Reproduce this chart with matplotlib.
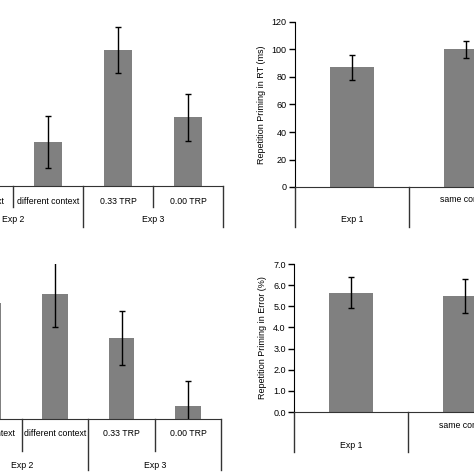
import matplotlib.pyplot as plt

plt.rcParams["font.family"] = ["Liberation Sans", "DejaVu Sans"]

cats = ["Exp 1", "same context", "different context", "0.33 TRP", "0.00 TRP"]
groups = ["Exp 1", "Exp 2", "Exp 3"]
group_pos = [0, 1.5, 3.5]

# left-hand (cropped) figure
rt_left = [87, 100, 32, 99, 50]
rt_left_err = [8, 6, 19, 17, 17]
err_left = [5.65, 5.25, 5.65, 3.67, 0.59]
err_left_err = [0.75, 0.8, 1.5, 1.22, 1.13]

# right-hand (cropped) figure
rt_right = [87, 100, 32, 99, 50]
rt_right_err = [9, 6, 19, 17, 17]
err_right = [5.65, 5.5, 5.65, 3.67, 0.59]
err_right_err = [0.73, 0.8, 1.5, 1.22, 1.13]

W = H = 474.0
fig = plt.figure(figsize=(4.74, 4.74), dpi=100)

# long separators between groups, short ones inside a group
long_seps = [-0.5, 0.5, 2.5, 4.5]
short_seps = [1.5, 3.5]


def panel(x0, spacing, base, top, ymax, vals, errs, lab_dy, grp_dy, long_dy, short_dy,
          yticks=None, ylabel=None, fmt="{:.0f}"):
    left = x0 - 0.5 * spacing
    ax = fig.add_axes([left / W, 1 - base / H, 5 * spacing / W, (base - top) / H])
    ax.set_xlim(-0.5, 4.5)
    ax.set_ylim(0, ymax)
    x = list(range(5))
    ax.bar(x, vals, width=0.39, color="#808080")
    ax.errorbar(x, vals, yerr=errs, fmt="none", ecolor="black", elinewidth=1,
                capsize=2.5, capthick=1)
    for s in ["top", "right"]:
        ax.spines[s].set_visible(False)
    ax.spines["bottom"].set_color("#333333")
    ax.set_xticks([])
    if yticks is None:
        ax.spines["left"].set_visible(False)
        ax.set_yticks([])
    else:
        ax.set_yticks(yticks)
        ax.set_yticklabels([fmt.format(t) for t in yticks], fontsize=6.5)
        ax.tick_params(axis="y", length=4, width=1, pad=2)
        ax.set_ylabel(ylabel, fontsize=6.5)
    tr = ax.get_xaxis_transform()
    for s in long_seps:
        ax.plot([s, s], [0, -long_dy / (base - top)], color="#333333", lw=1,
                transform=tr, clip_on=False)
    for s in short_seps:
        ax.plot([s, s], [0, -short_dy / (base - top)], color="#333333", lw=1,
                transform=tr, clip_on=False)
    for i, c in enumerate(cats[1:], start=1):
        ax.annotate(c, (i, 0), xycoords=tr, xytext=(0, -lab_dy), textcoords="offset pixels",
                    ha="center", va="center", fontsize=6.3)
    for g, p in zip(groups, group_pos):
        ax.annotate(g, (p, 0), xycoords=tr, xytext=(0, -grp_dy), textcoords="offset pixels",
                    ha="center", va="center", fontsize=6.3)
    return ax


panel(188 - 4 * 70, 70, 186, 21, 120, rt_left, rt_left_err, 15, 34, 41, 21)
panel(188 - 4 * 66.5, 66.5, 419, 264, 7, err_left, err_left_err, 14, 46, 51, 32)
panel(295 + 57, 114, 187, 22, 120, rt_right, rt_right_err, 13, 33, 40, 40,
      yticks=range(0, 121, 20), ylabel="Repetition Priming in RT (ms)")
panel(294 + 57, 114, 412, 264, 7, err_right, err_right_err, 14, 34, 40, 40,
      yticks=[i * 1.0 for i in range(8)], ylabel="Repetition Priming in Error (%)",
      fmt="{:.1f}")

fig.savefig("out.png", dpi=100)
